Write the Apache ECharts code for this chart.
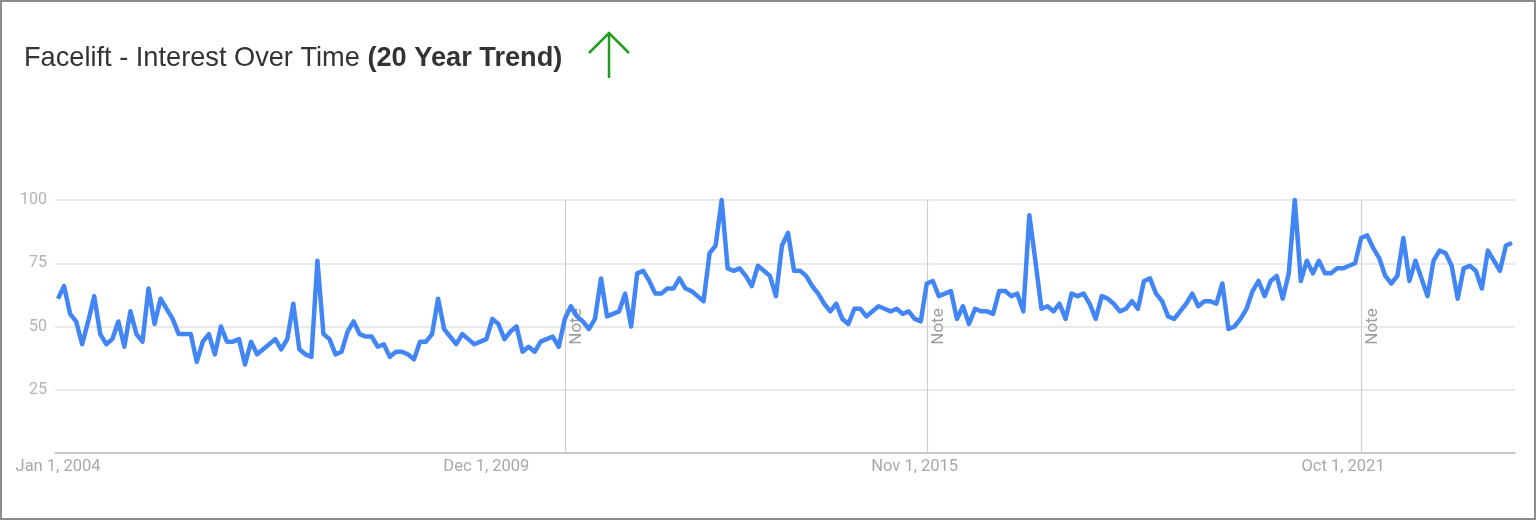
<!DOCTYPE html>
<html>
<head>
<meta charset="utf-8">
<script src="https://cdn.jsdelivr.net/npm/echarts@6/dist/echarts.min.js"></script>
<style>
html,body{margin:0;padding:0;background:#fff;}
#chart{width:1536px;height:520px;}
</style>
</head>
<body>
<div id="chart"></div>
<script>
const titleMain = 'Facelift - Interest Over Time ';
const titleBold = '(20 Year Trend)';
const startYear = 2004;
const monthCount = 242;
const tickLabels = ['Jan 1, 2004', 'Dec 1, 2009', 'Nov 1, 2015', 'Oct 1, 2021'];
const noteDates = ['Jan 1, 2011', 'Jan 1, 2016', 'Jan 1, 2022'];
const noteText = 'Note';
const yTicks = [25, 50, 75, 100];

const interest2004to2009 = [
  61,66,55,52,43,52,62,47,43,45,52,42,
  56,47,44,65,51,61,57,53,47,47,47,36,
  44,47,39,50,44,44,45,35,44,39,41,43,
  45,41,45,59,41,39,38,76,47,45,39,40,
  48,52,47,46,46,42,43,38,40,40,39,37,
  44,44,47,61,49,46,43,47,45,43,44,45
];
const interest2010to2015 = [
  53,51,45,48,50,40,42,40,44,45,46,42,
  53,58,54,52,49,53,69,54,55,56,63,50,
  71,72,68,63,63,65,65,69,65,64,62,60,
  79,82,100,73,72,73,70,66,74,72,70,62,
  82,87,72,72,70,66,63,59,56,59,53,51,
  57,57,54,56,58,57,56,57,55,56,53,52
];
const interest2016to2021 = [
  67,68,62,63,64,53,58,51,57,56,56,55,
  64,64,62,63,56,94,76,57,58,56,59,53,
  63,62,63,59,53,62,61,59,56,57,60,57,
  68,69,63,60,54,53,56,59,63,58,60,60,
  59,67,49,50,53,57,64,68,62,68,70,61,
  71,100,68,76,71,76,71,71,73,73,74,75
];
const interest2022to2024 = [
  85,86,81,77,70,67,70,85,68,76,69,62,
  76,80,79,74,61,73,74,72,65,80,76,72,
  82,83
];

const monthNames = ['Jan','Feb','Mar','Apr','May','Jun','Jul','Aug','Sep','Oct','Nov','Dec'];
const categories = [];
for (let i = 0; i < monthCount; i++) {
  const y = startYear + Math.floor(i / 12);
  categories.push(monthNames[i % 12] + ' 1, ' + y);
}
const interest = [].concat(interest2004to2009, interest2010to2015, interest2016to2021, interest2022to2024);

const chart = echarts.init(document.getElementById('chart'), null, {renderer: 'canvas'});
chart.setOption({
  animation: false,
  backgroundColor: '#ffffff',
  title: {
    left: 24,
    top: 44,
    padding: 0,
    text: '{n|' + titleMain + '}{b|' + titleBold + '}',
    textStyle: {
      fontWeight: 'normal',
      fontSize: 27.2,
      fontFamily: '"Liberation Sans", Arial, sans-serif',
      color: '#333333',
      rich: {
        n: {fontFamily: '"Liberation Sans", Arial, sans-serif', fontSize: 27.2, fontWeight: 'normal', color: '#333333', lineHeight: 30},
        b: {fontFamily: '"Liberation Sans", Arial, sans-serif', fontSize: 27.2, fontWeight: 'bold', color: '#333333', lineHeight: 30}
      }
    }
  },
  graphic: [
    {type: 'rect', silent: true, z: 100, shape: {x: 1, y: 1, width: 1534, height: 518},
     style: {fill: 'none', stroke: '#8c8c8c', lineWidth: 2}},
    {type: 'polyline', silent: true, shape: {points: [[609, 78], [609, 33]]},
     style: {fill: 'none', stroke: '#1f9e1f', lineWidth: 2.5}},
    {type: 'polyline', silent: true, shape: {points: [[589, 53], [609, 33], [629, 53]]},
     style: {fill: 'none', stroke: '#1f9e1f', lineWidth: 2.5}}
  ],
  grid: {left: 55, right: 21, top: 200, bottom: 67, containLabel: false},
  xAxis: {
    type: 'category',
    data: categories,
    boundaryGap: true,
    axisLine: {show: true, lineStyle: {color: '#bdbdbd', width: 1.5}},
    axisTick: {show: false},
    splitLine: {show: false},
    axisLabel: {
      interval: 70,
      color: '#a8a8a8',
      fontFamily: 'Roboto, sans-serif',
      fontSize: 16.5,
      margin: 5,
      formatter: function (v) { return tickLabels.indexOf(v) >= 0 ? v : ''; }
    }
  },
  yAxis: {
    type: 'value',
    min: 0,
    max: 100,
    interval: 25,
    axisLine: {show: false},
    axisTick: {show: false},
    splitLine: {show: true, lineStyle: {color: '#e3e3e3', width: 1.5}},
    axisLabel: {
      color: '#b4b4b4',
      fontFamily: 'Roboto, sans-serif',
      fontSize: 16,
      margin: 8,
      formatter: function (v) { return yTicks.indexOf(v) >= 0 ? String(v) : ''; }
    }
  },
  series: [{
    type: 'line',
    data: interest,
    clip: false,
    showSymbol: false,
    symbol: 'none',
    lineStyle: {color: '#4285f4', width: 4.5, join: 'round'},
    itemStyle: {color: '#4285f4'},
    z: 3,
    markLine: {
      silent: true,
      symbol: ['none', 'none'],
      z: 1,
      lineStyle: {color: '#cfcfcf', width: 1.2, type: 'solid'},
      label: {
        show: true,
        formatter: noteText,
        position: 'insideMiddleBottom',
        color: '#9e9e9e',
        fontFamily: 'Roboto, sans-serif',
        fontSize: 17,
        distance: 3
      },
      data: noteDates.map(function (d) { return {xAxis: d}; })
    }
  }]
});
</script>
</body>
</html>
